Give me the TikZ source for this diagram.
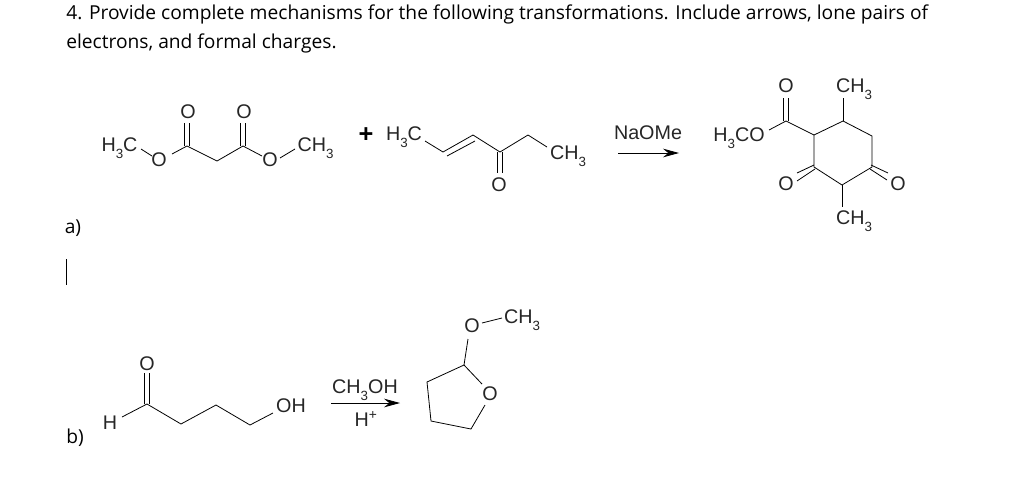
\documentclass[tikz,border=0pt]{standalone}
\usepackage{fontspec}
\setmainfont{Liberation Sans}
\newfontfamily\titlefont{Open Sans}
\usetikzlibrary{arrows.meta}
\newcommand{\lowsub}[1]{\smash{\raisebox{-0.35em}{\fontsize{10}{10}\selectfont #1}}}
\tikzset{
  atom/.style={inner sep=0pt,font=\fontsize{14.8}{17}\selectfont,text=black!85},
  bond/.style={draw=black,line width=0.6pt},
  rxn/.style={draw=black,line width=0.6pt,-{Stealth[length=12pt,width=6.5pt,inset=4pt]}},
  title/.style={inner sep=0pt,anchor=base west,font=\titlefont\fontsize{14.4}{17}\selectfont,text=black},
  tag/.style={inner sep=0pt,font=\titlefont\fontsize{14.4}{17}\selectfont,text=black},
  plus/.style={inner sep=0pt,font=\bfseries\fontsize{19}{21}\selectfont}
}
\begin{document}
\begin{tikzpicture}[x=0.75pt,y=-0.75pt]
\useasboundingbox[fill=white] (0,0) rectangle (1023,501);
% question
\node[title] (t1) at (66,19) {4. Provide complete mechanisms for the following transformations. Include arrows, lone pairs of};
\node[title] (t2) at (66,48) {electrons, and formal charges.};
\node[tag] (la) at (73,228) {a)};
\node[tag] (lb) at (75,438) {b)};
\coordinate (bar1) at (66,259);
\coordinate (bar2) at (66,285);
\draw[bond] (bar1) -- (bar2);
% dimethyl malonate
\node[atom] (m1) at (119.5,145) {H\lowsub{3}C};
\node[atom] (mo1) at (159,160) {O};
\node[atom] (mo2) at (188,112) {O};
\node[atom] (mo3) at (244,112) {O};
\node[atom] (mo4) at (270,160) {O};
\node[atom] (m2) at (315.5,145) {CH\lowsub{3}};
\coordinate (mc1) at (187,146);
\coordinate (mc2) at (217,161);
\coordinate (mc3) at (243,146);
\coordinate (ma) at (141,149);
\coordinate (mb) at (152,156);
\coordinate (mc) at (172,154);
\coordinate (md) at (262,156);
\coordinate (me) at (280,158);
\coordinate (mf) at (295,149);
\coordinate (mg) at (187,123);
\coordinate (mh) at (243,123);
\draw[bond] (ma) -- (mb);
\draw[bond] (mc) -- (mc1) -- (mc2) -- (mc3) -- (md);
\draw[bond] (me) -- (mf);
\draw[bond] ([xshift=-1.6pt]mc1) -- ([xshift=-1.6pt]mg);
\draw[bond] ([xshift=1.6pt]mc1) -- ([xshift=1.6pt]mg);
\draw[bond] ([xshift=-1.6pt]mc3) -- ([xshift=-1.6pt]mh);
\draw[bond] ([xshift=1.6pt]mc3) -- ([xshift=1.6pt]mh);
% enone
\node[plus] (plus) at (366,135) {+};
\node[atom] (e1) at (404,134) {H\lowsub{3}C};
\node[atom] (e2) at (568,153) {CH\lowsub{3}};
\node[atom] (eo) at (499,185) {O};
\coordinate (ea) at (425,141);
\coordinate (eb) at (443,152);
\coordinate (ec) at (473,135);
\coordinate (ed) at (500,152);
\coordinate (ee) at (528,135);
\coordinate (ef) at (547,147);
\coordinate (eg) at (447,156);
\coordinate (eh) at (475,141);
\coordinate (ei) at (500,173);
\draw[bond] (ea) -- (eb) -- (ec) -- (ed) -- (ee) -- (ef);
\draw[bond] (eg) -- (eh);
\draw[bond] ([xshift=-1.6pt]ed) -- ([xshift=-1.6pt]ei);
\draw[bond] ([xshift=1.6pt]ed) -- ([xshift=1.6pt]ei);
% arrow a
\node[atom] (naome) at (648,133) {NaOMe};
\coordinate (ar1) at (618,153);
\coordinate (ar2) at (679,153);
\draw[rxn] (ar1) -- (ar2);
% product
\node[atom] (po1) at (786,86) {O};
\node[atom] (p1) at (854,86) {CH\lowsub{3}};
\node[atom] (p2) at (739,135) {H\lowsub{3}CO};
\node[atom] (po2) at (786,184) {O};
\node[atom] (po3) at (898,184) {O};
\node[atom] (p3) at (854,218) {CH\lowsub{3}};
\coordinate (pc) at (786,121);
\coordinate (r1) at (814,135);
\coordinate (r2) at (843,121);
\coordinate (r3) at (872,136);
\coordinate (r4) at (872,167);
\coordinate (r5) at (842,185);
\coordinate (r6) at (814,167);
\coordinate (pa) at (786,98);
\coordinate (pb) at (769,130);
\coordinate (pd) at (843,98);
\coordinate (pe) at (842,207);
\coordinate (l1) at (814,165);
\coordinate (l2) at (797,173);
\coordinate (l3) at (815,169);
\coordinate (l4) at (797,181);
\coordinate (q1) at (871,165);
\coordinate (q2) at (888,173);
\coordinate (q3) at (870,169);
\coordinate (q4) at (887,180);
\draw[bond] (pb) -- (pc) -- (r1);
\draw[bond] (r1) -- (r2) -- (r3) -- (r4) -- (r5) -- (r6) -- cycle;
\draw[bond] (r2) -- (pd);
\draw[bond] (r5) -- (pe);
\draw[bond] ([xshift=-1.6pt]pc) -- ([xshift=-1.6pt]pa);
\draw[bond] ([xshift=1.6pt]pc) -- ([xshift=1.6pt]pa);
\draw[bond] (l1) -- (l2);
\draw[bond] (l3) -- (l4);
\draw[bond] (q1) -- (q2);
\draw[bond] (q3) -- (q4);
% hydroxy aldehyde
\node[atom] (bo) at (147,364) {O};
\node[atom] (bh) at (110,423) {H};
\node[atom] (boh) at (291,406) {OH};
\coordinate (b1) at (147,404);
\coordinate (b2) at (181,424);
\coordinate (b3) at (216,405);
\coordinate (b4) at (250,425);
\coordinate (b5) at (273,413);
\coordinate (b6) at (122,417);
\coordinate (b7) at (147,373);
\draw[bond] (b6) -- (b1) -- (b2) -- (b3) -- (b4) -- (b5);
\draw[bond] ([xshift=-1.8pt]b1) -- ([xshift=-1.8pt]b7);
\draw[bond] ([xshift=1.8pt]b1) -- ([xshift=1.8pt]b7);
% arrow b
\node[atom] (meoh) at (365,387) {CH\lowsub{3}OH};
\node[atom] (hplus) at (366,419) {H\textsuperscript{+}};
\coordinate (ar3) at (331,403);
\coordinate (ar4) at (400,403);
\draw[rxn] (ar3) -- (ar4);
% acetal
\node[atom] (ao1) at (472,326) {O};
\node[atom] (ao2) at (490,394) {O};
\node[atom] (a1) at (522,317) {CH\lowsub{3}};
\coordinate (c1) at (464,365);
\coordinate (c2) at (427,382);
\coordinate (c3) at (431,421);
\coordinate (c4) at (471,429);
\coordinate (c5) at (482,384);
\coordinate (c6) at (485,405);
\coordinate (c7) at (468,339);
\coordinate (c8) at (482,323);
\coordinate (c9) at (502,318);
\draw[bond] (c5) -- (c1) -- (c2) -- (c3) -- (c4) -- (c6);
\draw[bond] (c1) -- (c7);
\draw[bond] (c8) -- (c9);
\end{tikzpicture}
\end{document}
